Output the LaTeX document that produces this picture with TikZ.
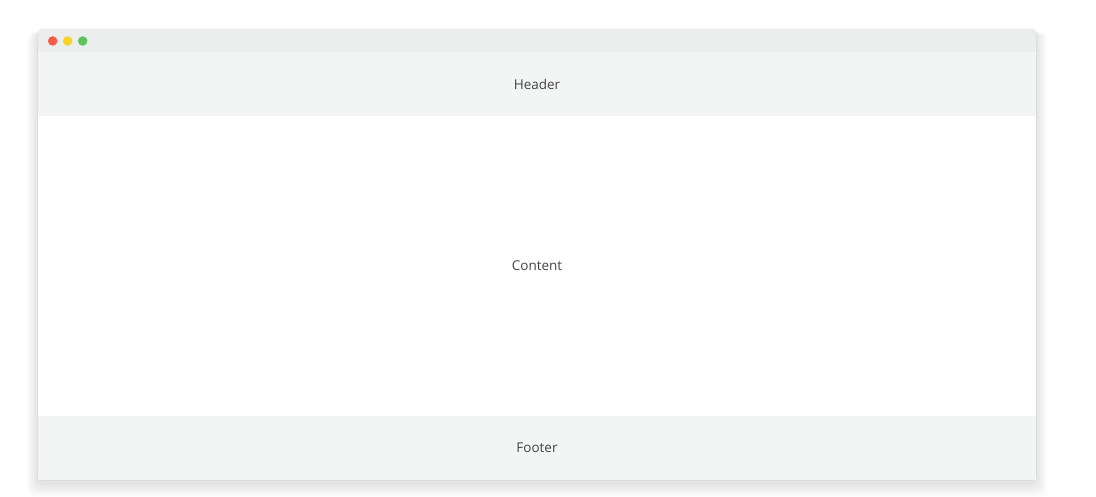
\documentclass[tikz,border=0pt]{standalone}
\usepackage{fontspec}
\setmainfont{Open Sans}
\definecolor{titlebar}{HTML}{ECEEED}
\definecolor{band}{HTML}{F3F5F4}
\definecolor{txt}{HTML}{444444}
\definecolor{dotred}{HTML}{F55B4A}
\definecolor{dotyellow}{HTML}{F9D327}
\definecolor{dotgreen}{HTML}{5BC45A}
\tikzset{
  region/.style={draw=none, inner sep=0pt, outer sep=0pt, minimum width=998pt, anchor=north west, text=txt, font=\fontsize{13.5}{15}\selectfont},
  dot/.style={circle, inner sep=0pt, minimum size=9.5pt, draw=none}
}
\begin{document}
\begin{tikzpicture}[x=1pt,y=-1pt]
\useasboundingbox[fill=white] (0,0) rectangle (1096,497);
% soft shadow
\foreach \i in {1,...,14}{
  \fill[black, opacity=0.006, rounded corners=8pt] (38-\i*0.8,29+3) rectangle (1036+\i*0.8,480+\i+3);
}
\fill[black, opacity=0.05, rounded corners=4pt] (37.5,28.5) rectangle (1036.5,480.5);
% title bar
\fill[titlebar, rounded corners=4pt] (38,29) rectangle (1036,60);
\node[region, fill=band, minimum height=64pt] (header) at (38,52) {Header};
\node[region, fill=white, minimum height=300pt] (content) at (38,116) {Content};
\node[region, fill=band, minimum height=64pt] (footer) at (38,416) {Footer};
\node[dot, fill=dotred] (red) at (52.7,41) {};
\node[dot, fill=dotyellow] (yellow) at (67.7,41) {};
\node[dot, fill=dotgreen] (green) at (82.7,41) {};
\end{tikzpicture}
\end{document}
